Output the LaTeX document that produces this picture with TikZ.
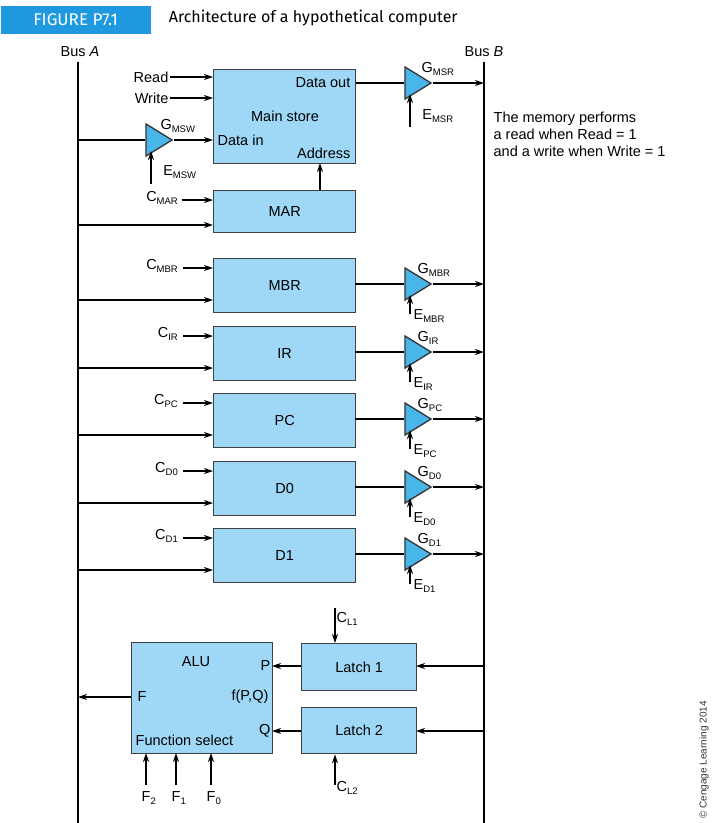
\documentclass[tikz,border=0pt]{standalone}
\usepackage{fontspec}
\setmainfont{Liberation Sans}
\newfontfamily\titlefont{Fira Sans}
\usetikzlibrary{shapes.geometric,arrows.meta,calc}
\definecolor{regblue}{RGB}{158,216,246}
\definecolor{gateblue}{RGB}{72,182,232}
\definecolor{figblue}{RGB}{30,152,222}
\tikzset{
  reg/.style={draw=black!75,fill=regblue,minimum width=142pt,inner sep=0pt,font=\fontsize{14.5}{17}\selectfont},
  buf/.style={draw=black!80,fill=gateblue,isosceles triangle,isosceles triangle stretches,
    inner sep=0pt,minimum width=32pt,minimum height=26pt},
  lbl/.style={font=\fontsize{14.5}{17}\selectfont,inner sep=1pt},
  >={Stealth[length=9pt,width=6pt]}
}
\newcommand{\sub}[2]{#1\textsubscript{\fontsize{9.5}{10}\selectfont #2}}
\begin{document}
\begin{tikzpicture}[x=1pt,y=-1pt,line width=1.3pt]
  \useasboundingbox (0,0) rectangle (712,823);
  % title
  \node[fill=figblue,text=white,minimum width=150pt,minimum height=28pt,anchor=north west,
    font=\titlefont\fontsize{17}{19}\selectfont] (fig) at (0,5) {FIGURE P7.1};
  \node[anchor=west,font=\titlefont\fontsize{16}{18}\selectfont] (title) at (165,18) {Architecture of a hypothetical computer};
  % buses
  \node[lbl] (busAl) at (80,52) {Bus \textit{A}};
  \node[lbl] (busBl) at (484,52) {Bus \textit{B}};
  \coordinate (busAt) at (78,62);   \coordinate (busAb) at (78,823);
  \coordinate (busBt) at (484,62);  \coordinate (busBb) at (484,823);
  \draw (busAt) -- (busAb);
  \draw (busBt) -- (busBb);
  % main store
  \node[reg,minimum height=94pt,anchor=north west] (ms) at (213,69) {};
  \node[lbl,anchor=east] (dout) at (352,83) {Data out};
  \node[lbl] (mslbl) at (285,116) {Main store};
  \node[lbl,anchor=west] (din) at (216,140) {Data in};
  \node[lbl,anchor=east] (addr) at (352,153) {Address};
  \node[lbl,anchor=east] (rd) at (170,77) {Read};
  \node[lbl,anchor=east] (wr) at (170,98) {Write};
  \draw[->] (rd.east) -- (rd.east -| ms.west);
  \draw[->] (wr.east) -- (wr.east -| ms.west);
  \node[buf] (gmsw) at (155,140) {};
  \draw (78,140) -- (gmsw.west);
  \draw[->] (gmsw.east) -- (din.west -| ms.west);
  \node[lbl] at (178,126) {\sub{G}{MSW}};
  \node[lbl] at (180,172) {\sub{E}{MSW}};
  \draw[->] (151,184) -- (151,151);
  \node[buf] (gmsr) at (414,83) {};
  \draw (ms.east |- dout) -- (gmsr.west);
  \draw[->] (gmsr.east) -- (484,83);
  \node[lbl] at (438,69) {\sub{G}{MSR}};
  \node[lbl] at (438,116) {\sub{E}{MSR}};
  \draw[->] (410,127) -- (410,94);
  % MAR
  \node[reg,minimum height=42pt,anchor=north west] (mar) at (213,190) {MAR};
  \node[lbl,anchor=east] (cmar) at (180,198) {\sub{C}{MAR}};
  \draw[->] (182,200) -- (213,200);
  \draw[->] (78,225) -- (213,225);
  \draw[->] (320,190) -- (320,163);
  % registers
  \foreach \nm/\tp in {MBR/258,IR/326,PC/393,D0/461,D1/528}{
    \node[reg,minimum height=54pt,anchor=north west] (r\nm) at (213,\tp) {\nm};
    \node[lbl,anchor=east] (c\nm) at (180,\tp+8) {\sub{C}{\nm}};
    \draw[->] (183,\tp+10) -- (213,\tp+10);
    \draw[->] (78,\tp+42) -- (213,\tp+42);
    \node[buf] (g\nm) at (414,\tp+26) {};
    \draw (355,\tp+26) -- (g\nm.west);
    \draw[->] (g\nm.east) -- (484,\tp+26);
    \node[lbl,anchor=west] at (416,\tp+12) {\sub{G}{\nm}};
    \node[lbl,anchor=west] at (412,\tp+58) {\sub{E}{\nm}};
    \draw[->] (410,\tp+56) -- (410,\tp+37);
  }
  % note
  \node[lbl,align=left,anchor=north west] (note) at (492,110)
    {The memory performs\\a read when Read = 1\\and a write when Write = 1};
  % latches and ALU
  \node[reg,minimum width=115pt,minimum height=47pt,anchor=north west] (l1) at (301,643) {Latch 1};
  \node[reg,minimum width=115pt,minimum height=46pt,anchor=north west] (l2) at (301,707) {Latch 2};
  \draw[->] (484,666) -- (416,666);
  \draw[->] (484,731) -- (416,731);
  \node[lbl,anchor=west] at (335,619) {\sub{C}{L1}};
  \draw[->] (335,608) -- (l1.north -| 335,0);
  \node[lbl,anchor=west] at (335,788) {\sub{C}{L2}};
  \draw[->] (335,785) -- (l2.south -| 335,0);
  \node[reg,minimum width=141pt,minimum height=111pt,anchor=north west] (alu) at (131,642) {};
  \node[lbl] at (196,662) {ALU};
  \node[lbl,anchor=east] (pin) at (272,666) {P};
  \node[lbl,anchor=east] (qin) at (272,731) {Q};
  \node[lbl,anchor=east] at (270,697) {f(P,Q)};
  \node[lbl,anchor=west] (fout) at (136,697) {F};
  \node[lbl,anchor=west] at (134,740) {Function select};
  \draw[->] (301,666) -- (272,666);
  \draw[->] (301,731) -- (272,731);
  \draw[->] (131,697) -- (78,697);
  \foreach \fx/\fn in {146/2,176/1,211/0}{
    \draw[->] (\fx,785) -- (\fx,753);
    \node[lbl] at (\fx+3,798) {\sub{F}{\fn}};
  }
  \node[rotate=90,font=\fontsize{10}{11}\selectfont,text=black!80] (copy) at (704,760) {\textcopyright\ Cengage Learning 2014};
\end{tikzpicture}
\end{document}
